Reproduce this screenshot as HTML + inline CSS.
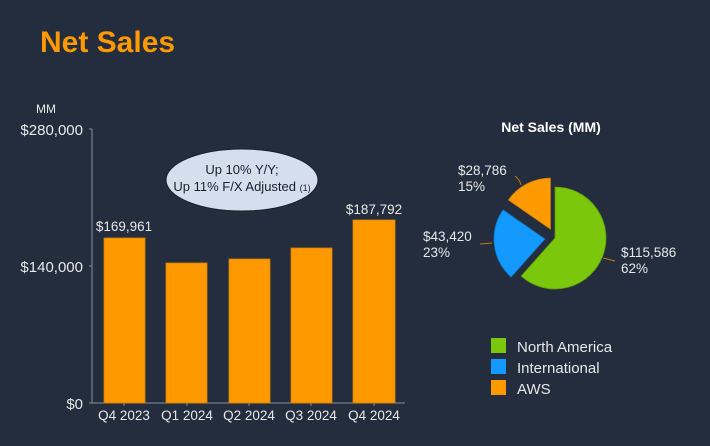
<!DOCTYPE html>
<html><head><meta charset="utf-8"><style>
body{margin:0;width:710px;height:441px;background:#232d3d;overflow:hidden;font-family:"Liberation Sans","DejaVu Sans",sans-serif}
</style></head><body>
<svg width="710" height="441" xmlns="http://www.w3.org/2000/svg" font-family="Liberation Sans, DejaVu Sans, sans-serif">
<rect width="710" height="441" fill="#232d3d"/>
<text x="40" y="52" font-size="30" font-weight="bold" fill="#ff9900">Net Sales</text>
<text x="36" y="113" font-size="12" fill="#e8e8e8">MM</text>
<g font-size="15" fill="#e8e8e8" text-anchor="end">
<text x="83" y="135">$280,000</text>
<text x="83" y="272">$140,000</text>
<text x="83" y="409">$0</text>
</g>
<g stroke="#8a8f98" stroke-width="1">
<line x1="92" y1="129" x2="92" y2="403"/>
<line x1="89" y1="129" x2="92" y2="129"/>
<line x1="89" y1="266" x2="92" y2="266"/>
<line x1="89" y1="403" x2="405" y2="403"/>
<line x1="124" y1="403" x2="124" y2="406"/>
<line x1="187" y1="403" x2="187" y2="406"/>
<line x1="249" y1="403" x2="249" y2="406"/>
<line x1="311" y1="403" x2="311" y2="406"/>
<line x1="374" y1="403" x2="374" y2="406"/>
</g>
<g fill="#ff9900" stroke="#d98200" stroke-width="0.8">
<rect x="104" y="238" width="41" height="165"/>
<rect x="166" y="263" width="41" height="140"/>
<rect x="229" y="259" width="41" height="144"/>
<rect x="291" y="248" width="41" height="155"/>
<rect x="353" y="220" width="42" height="183"/>
</g>
<g font-size="13.5" fill="#e8e8e8" text-anchor="middle">
<text x="124" y="231">$169,961</text>
<text x="374" y="214">$187,792</text>
<text x="124" y="420">Q4 2023</text>
<text x="187" y="420">Q1 2024</text>
<text x="249" y="420">Q2 2024</text>
<text x="311" y="420">Q3 2024</text>
<text x="374" y="420">Q4 2024</text>
</g>
<ellipse cx="242" cy="180" rx="76" ry="31" fill="#d5deec" stroke="#1a1f28" stroke-width="1"/>
<g font-size="13" fill="#1a1f28" text-anchor="middle">
<text x="242" y="174">Up 10% Y/Y;</text>
<text x="242" y="191">Up 11% F/X Adjusted <tspan font-size="9">(1)</tspan></text>
</g>
<text x="551" y="132" font-size="14" font-weight="bold" fill="#ffffff" text-anchor="middle">Net Sales (MM)</text>
<path d="M555,238 L555,187 A51,51 0 1 1 521.1,276.1 Z" fill="#7ac70c" stroke="#5e9a0a" stroke-width="0.8"/>
<path d="M545,239 L511.1,277.1 A51,51 0 0 1 503.1,209.9 Z" fill="#1399ff" stroke="#0d74c4" stroke-width="0.8"/>
<path d="M550.4,229.1 L508.5,200 A51,51 0 0 1 550.4,178.1 Z" fill="#ff9900" stroke="#d98200" stroke-width="0.8"/>
<g stroke="#c77a10" stroke-width="1" fill="none">
<path d="M515,176 Q520,180 521,185"/>
<path d="M480,244 L492,243"/>
<path d="M603,258 L615,261"/>
</g>
<g font-size="13.5" fill="#e8e8e8">
<text x="458" y="175">$28,786</text>
<text x="458" y="191">15%</text>
<text x="423" y="241">$43,420</text>
<text x="423" y="257">23%</text>
<text x="621" y="257">$115,586</text>
<text x="621" y="273">62%</text>
</g>
<rect x="491" y="338" width="15" height="15" fill="#7ac70c"/>
<rect x="491" y="359" width="15" height="15" fill="#1399ff"/>
<rect x="491" y="380" width="15" height="15" fill="#ff9900"/>
<g font-size="15" fill="#e8e8e8">
<text x="517" y="352">North America</text>
<text x="517" y="373">International</text>
<text x="517" y="394">AWS</text>
</g>
</svg>
</body></html>
